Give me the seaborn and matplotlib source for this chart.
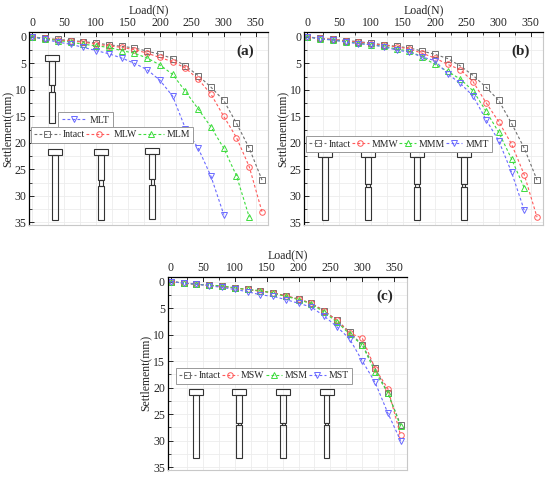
import numpy as np
import pandas as pd
import matplotlib.pyplot as plt
import seaborn as sns
from matplotlib.patches import Rectangle
from matplotlib.ticker import MultipleLocator

sns.set_style("white")
plt.rcParams['font.family'] = ['Liberation Serif', 'DejaVu Serif']

# Load steps (N)
load = [0, 20, 40, 60, 80, 100, 120, 140, 160, 180, 200, 220, 240, 260, 280, 300, 320, 340, 360]

# Settlement (mm)
intact = [0, 0.3, 0.5, 0.7, 0.9, 1.2, 1.5, 1.8, 2.1, 2.7, 3.3, 4.1, 5.5, 7.3, 9.5, 12.0, 16.3, 21.0, 27.0]

mlw = [0, 0.3, 0.6, 0.8, 1.0, 1.4, 1.7, 2.0, 2.4, 3.1, 3.9, 4.7, 5.9, 8.0, 10.8, 15.0, 19.0, 24.5, 33.0]
mlm = [0, 0.4, 0.7, 1.0, 1.4, 1.7, 2.0, 2.6, 3.1, 4.0, 5.3, 7.1, 10.3, 13.6, 17.0, 21.0, 26.2, 34.0]
mlt = [0, 0.5, 1.0, 1.4, 2.0, 2.6, 3.2, 4.0, 5.0, 6.2, 8.2, 11.2, 17.3, 21.0, 26.3, 33.5]

mmw = [0, 0.3, 0.5, 0.8, 1.0, 1.3, 1.6, 1.9, 2.3, 3.1, 4.0, 5.2, 6.2, 8.5, 12.4, 16.0, 20.2, 26.0, 34.0]
mmm = [0, 0.4, 0.6, 0.9, 1.2, 1.5, 1.8, 2.3, 2.7, 3.8, 5.2, 6.5, 8.0, 10.2, 14.0, 18.0, 23.0, 28.5]
mmt = [0, 0.4, 0.6, 1.0, 1.3, 1.5, 1.9, 2.5, 2.9, 3.8, 4.5, 7.0, 8.8, 11.2, 15.6, 19.6, 25.5, 32.7]

msw = [0, 0.3, 0.5, 0.7, 0.9, 1.2, 1.5, 1.8, 2.1, 2.7, 3.3, 4.1, 5.6, 7.3, 9.7, 10.7, 16.4, 20.2, 29.0]
msm = [0, 0.3, 0.5, 0.7, 0.8, 1.2, 1.5, 1.7, 2.2, 2.8, 3.4, 4.2, 5.8, 7.6, 9.9, 12.0, 17.0, 21.0, 27.3]
mst = [0, 0.3, 0.5, 0.8, 1.1, 1.5, 1.9, 2.5, 2.8, 3.4, 4.1, 4.8, 6.5, 8.5, 10.8, 15.0, 19.0, 24.8, 30.0]

colors = {"Intact": "#707070", "W": "#ff5a5a", "M": "#3ddc3d", "T": "#6a6aff"}
markers = {"Intact": "s", "W": "o", "M": "^", "T": "v"}

fig = plt.figure(figsize=(5.5, 4.78), dpi=100)
ax_a = fig.add_axes([0.053, 0.529, 0.435, 0.404])
ax_b = fig.add_axes([0.553, 0.529, 0.435, 0.404])
ax_c = fig.add_axes([0.305, 0.017, 0.435, 0.404])


def plot_series(ax, y, label, kind):
    sns.lineplot(x=load[:len(y)], y=y, ax=ax, color=colors[kind], linestyle=(0, (2.5, 2)),
                 linewidth=0.8, marker=markers[kind], markersize=4,
                 markerfacecolor='none', markeredgecolor=colors[kind],
                 markeredgewidth=0.7, label=label, legend=False)
    return ax.lines[-1]


def style_axes(ax, tag):
    ax.set_xlim(-5, 370)
    ax.set_ylim(35.5, -0.9)
    ax.xaxis.tick_top()
    ax.xaxis.set_label_position('top')
    ax.xaxis.set_major_locator(MultipleLocator(50))
    ax.xaxis.set_minor_locator(MultipleLocator(25))
    ax.yaxis.set_major_locator(MultipleLocator(5))
    ax.yaxis.set_minor_locator(MultipleLocator(2.5))
    ax.tick_params(which='both', direction='in', top=True, left=True,
                   bottom=False, right=False, labelsize=8.5, pad=2)
    ax.tick_params(which='major', length=3.5, width=0.7)
    ax.tick_params(which='minor', length=2, width=0.6)
    ax.grid(which='both', color='#ececec', linewidth=0.6)
    ax.set_axisbelow(True)
    for s in ['top', 'left']:
        ax.spines[s].set_color('black')
        ax.spines[s].set_linewidth(0.9)
    for s in ['bottom', 'right']:
        ax.spines[s].set_color('#c8c8c8')
        ax.spines[s].set_linewidth(0.8)
    ax.set_xlabel('Load(N)', fontsize=8.5, labelpad=3)
    ax.set_ylabel('Settlement(mm)', fontsize=8.5, labelpad=1)
    ax.text(0.905, 0.90, tag, transform=ax.transAxes, fontsize=11, fontweight='bold',
            ha='center', va='center')


def draw_pile(ax, xc, ytop, ybot, defect=None, neck_w=0.6):
    # pile head cap
    ax.add_patch(Rectangle((xc - 11, ytop), 22, 1.1, fill=False, ec='#333333', lw=0.8))
    s = ytop + 1.1
    w = 9
    if defect is None:
        ax.add_patch(Rectangle((xc - w / 2, s), w, ybot - s, fill=False, ec='#333333', lw=0.8))
    else:
        d0, d1 = defect
        ax.add_patch(Rectangle((xc - w / 2, s), w, d0 - s, fill=False, ec='#333333', lw=0.8))
        nw = w * neck_w
        ax.add_patch(Rectangle((xc - nw / 2, d0), nw, d1 - d0, fill=False, ec='#333333', lw=0.8))
        ax.add_patch(Rectangle((xc - w / 2, d1), w, ybot - d1, fill=False, ec='#333333', lw=0.8))


def add_legend(ax, handles, x, y, ncol, hl=1.7):
    leg = ax.legend(handles=handles, loc='upper left', bbox_to_anchor=(x, y), ncol=ncol,
                    fontsize=7, frameon=True, fancybox=False, edgecolor='#999999',
                    framealpha=1, borderaxespad=0, borderpad=0.35, handlelength=hl,
                    handletextpad=0.3, columnspacing=0.1, labelspacing=0.2)
    leg.get_frame().set_linewidth(0.7)
    return leg


# (a) location of defect
h1 = plot_series(ax_a, intact, 'Intact', 'Intact')
h2 = plot_series(ax_a, mlw, 'MLW', 'W')
h3 = plot_series(ax_a, mlm, 'MLM', 'M')
h4 = plot_series(ax_a, mlt, 'MLT', 'T')
style_axes(ax_a, '(a)')
leg1 = add_legend(ax_a, [h4], 0.121, 0.585, 1, hl=2.6)
ax_a.add_artist(leg1)
add_legend(ax_a, [h1, h2, h3], 0.008, 0.508, 3, hl=2.6)
draw_pile(ax_a, 31, 3.4, 16.2, (9.0, 10.4), 0.55)
draw_pile(ax_a, 36, 21.1, 34.5)
draw_pile(ax_a, 108, 21.1, 34.5, (26.9, 28.2), 0.7)
draw_pile(ax_a, 188, 21.0, 34.3, (26.8, 28.0), 0.45)

# (b) severity of defect
h1 = plot_series(ax_b, intact, 'Intact', 'Intact')
h2 = plot_series(ax_b, mmw, 'MMW', 'W')
h3 = plot_series(ax_b, mmm, 'MMM', 'M')
h4 = plot_series(ax_b, mmt, 'MMT', 'T')
style_axes(ax_b, '(b)')
add_legend(ax_b, [h1, h2, h3, h4], 0.008, 0.461, 4)
draw_pile(ax_b, 28, 21.5, 34.5)
for xc in [95, 172, 245]:
    draw_pile(ax_b, xc, 21.5, 34.5, (27.7, 28.3), 0.55)

# (c) size of defect
h1 = plot_series(ax_c, intact, 'Intact', 'Intact')
h2 = plot_series(ax_c, msw, 'MSW', 'W')
h3 = plot_series(ax_c, msm, 'MSM', 'M')
h4 = plot_series(ax_c, mst, 'MST', 'T')
style_axes(ax_c, '(c)')
add_legend(ax_c, [h1, h2, h3, h4], 0.033, 0.528, 4)
draw_pile(ax_c, 39, 20.2, 33.3)
for xc in [107, 176, 244]:
    draw_pile(ax_c, xc, 20.2, 33.3, (26.7, 27.1), 0.55)

fig.savefig('out.png', dpi=100)
